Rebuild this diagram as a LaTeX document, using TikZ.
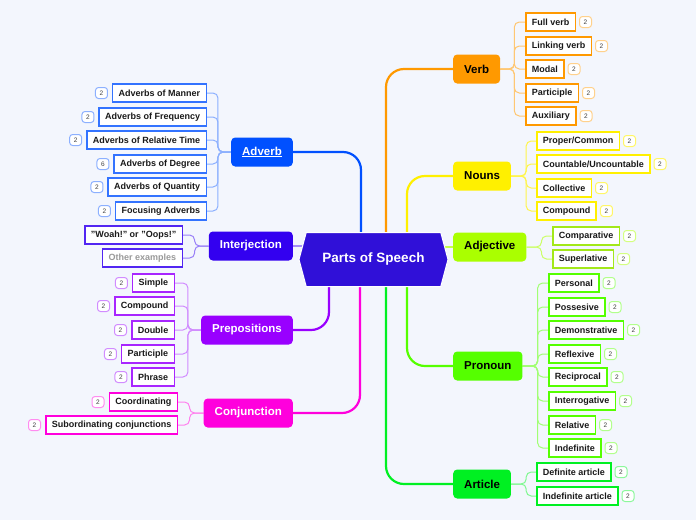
\documentclass[tikz,border=0pt]{standalone}
\usepackage{fontspec}
\setmainfont{Liberation Sans}
\usepackage{xcolor}
\usepackage{tikz}
\usetikzlibrary{positioning, shapes.symbols, backgrounds}
\definecolor{bgblue}{HTML}{F3F6FD}
\definecolor{rootc}{HTML}{3010D8}
\definecolor{verbc}{HTML}{FF9900}
\definecolor{nounc}{HTML}{FFF000}
\definecolor{adjc}{HTML}{AAFF00}
\definecolor{pronc}{HTML}{55FF00}
\definecolor{artc}{HTML}{00F022}
\definecolor{advc}{HTML}{0050FF}
\definecolor{interc}{HTML}{3300F0}
\definecolor{prepc}{HTML}{9900FF}
\definecolor{conjc}{HTML}{FF00DD}

\begin{document}
\begin{tikzpicture}[x=1pt, y=-1pt,
  root/.style={shape=signal, signal to=west and east, signal pointer angle=150,
    fill=rootc, draw=white, line width=1pt, minimum width=149pt, minimum height=54pt,
    text=white, font=\fontsize{13.5}{15}\selectfont\bfseries},
  branch/.style={rectangle, rounded corners=4pt, minimum height=29pt, inner xsep=11pt,
    font=\fontsize{11.5}{13}\selectfont\bfseries},
  leaf/.style={rectangle, fill=white, line width=1.5pt, minimum height=18pt,
    inner xsep=6pt, inner ysep=2pt, text=black!90, font=\fontsize{9}{10}\selectfont\bfseries},
  badge/.style={rectangle, rounded corners=3pt, fill=white, line width=1pt,
    minimum width=12pt, minimum height=11pt, inner sep=0pt, text=black!75,
    font=\fontsize{6.5}{7}\selectfont},
  limb/.style={line width=2.2pt, rounded corners=18pt},
  twig/.style={line width=1pt, rounded corners=5pt},
]
  \useasboundingbox (0,0) rectangle (696,520);
  \begin{pgfonlayer}{background}
    \fill[bgblue] (0,0) rectangle (696,520);
  \end{pgfonlayer}

  % centre
  \node[root] (pos) at (373.5,259.5) {Parts of Speech};

  % main branches
  \node[branch, fill=verbc, anchor=west] (verb) at (453,69) {Verb};
  \node[branch, fill=nounc, anchor=west] (nouns) at (453,176) {Nouns};
  \node[branch, fill=adjc, anchor=west] (adj) at (453,247) {Adjective};
  \node[branch, fill=pronc, anchor=west] (pron) at (453,366) {Pronoun};
  \node[branch, fill=artc, anchor=west] (art) at (453,484) {Article};
  \node[branch, fill=advc, text=white, anchor=east] (adv) at (293,152) {\underline{Adverb}};
  \node[branch, fill=interc, text=white, anchor=east] (inter) at (293,246) {Interjection};
  \node[branch, fill=prepc, text=white, anchor=east] (prep) at (293,330) {Prepositions};
  \node[branch, fill=conjc, text=white, anchor=east] (conj) at (293,413) {Conjunction};

  \begin{pgfonlayer}{background}
    \draw[limb, verbc] ([xshift=12.5pt]pos.north) |- (verb.west);
    \draw[limb, nounc] ([xshift=33.5pt]pos.north) |- (nouns.west);
    \draw[limb, advc] ([xshift=-12.5pt]pos.north) |- (adv.east);
    \draw[limb, pronc] ([xshift=33.5pt]pos.south) |- (pron.west);
    \draw[limb, artc] ([xshift=12.5pt]pos.south) |- (art.west);
    \draw[limb, prepc] ([xshift=-44.5pt]pos.south) |- (prep.east);
    \draw[limb, conjc] ([xshift=-13.5pt]pos.south) |- (conj.east);
    \draw[limb, line width=1.5pt, adjc!70] (adj.west) -- (adj.west -| pos.center);
    \draw[limb, line width=1.5pt, interc!45] (inter.east) -- (inter.east -| pos.center);
  \end{pgfonlayer}

  % right side leaves
  \foreach \t/\y [count=\i] in {Full verb/22, Linking verb/46, Modal/69, Participle/93, Auxiliary/116} {
    \node[leaf, draw=verbc, anchor=west] (verb-\i) at (525,\y) {\t};
    \node[badge, draw=verbc!45, right=3pt of verb-\i] (verb-\i-n) {2};
    \begin{pgfonlayer}{background}
      \draw[twig, verbc!55] (verb.east) -- ++(14,0) |- (verb-\i.west);
    \end{pgfonlayer}
  }
  \foreach \t/\y [count=\i] in {{Proper/Common}/141, {Countable/Uncountable}/164, Collective/188, Compound/211} {
    \node[leaf, draw=nounc, anchor=west] (nouns-\i) at (536,\y) {\t};
    \node[badge, draw=nounc!60, right=3pt of nouns-\i] (nouns-\i-n) {2};
    \begin{pgfonlayer}{background}
      \draw[twig, nounc!70] (nouns.east) -- ++(15,0) |- (nouns-\i.west);
    \end{pgfonlayer}
  }
  \foreach \t/\y [count=\i] in {Comparative/236, Superlative/259} {
    \node[leaf, draw=adjc!90!black!90, anchor=west] (adj-\i) at (552,\y) {\t};
    \node[badge, draw=adjc!50, right=3pt of adj-\i] (adj-\i-n) {2};
    \begin{pgfonlayer}{background}
      \draw[twig, adjc!60] (adj.east) -- ++(15,0) |- (adj-\i.west);
    \end{pgfonlayer}
  }
  \foreach \t/\y [count=\i] in {Personal/283, Possesive/307, Demonstrative/330, Reflexive/354,
      Reciprocal/377, Interrogative/401, Relative/425, Indefinite/448} {
    \node[leaf, draw=pronc, anchor=west] (pron-\i) at (548,\y) {\t};
    \node[badge, draw=pronc!45, right=3pt of pron-\i] (pron-\i-n) {2};
    \begin{pgfonlayer}{background}
      \draw[twig, pronc!55] (pron.east) -- ++(15,0) |- (pron-\i.west);
    \end{pgfonlayer}
  }
  \foreach \t/\y [count=\i] in {Definite article/472, Indefinite article/496} {
    \node[leaf, draw=artc, anchor=west] (art-\i) at (536,\y) {\t};
    \node[badge, draw=artc!45, right=3pt of art-\i] (art-\i-n) {2};
    \begin{pgfonlayer}{background}
      \draw[twig, artc!50] (art.east) -- ++(15,0) |- (art-\i.west);
    \end{pgfonlayer}
  }

  % left side leaves
  \foreach \t/\y/\n [count=\i] in {Adverbs of Manner/93/2, Adverbs of Frequency/117/2,
      Adverbs of Relative Time/140/2, Adverbs of Degree/164/6, Adverbs of Quantity/187/2,
      Focusing Adverbs/211/2} {
    \node[leaf, draw=advc!80, anchor=east] (adv-\i) at (207,\y) {\t};
    \node[badge, draw=advc!45, left=4pt of adv-\i] (adv-\i-n) {\n};
    \begin{pgfonlayer}{background}
      \draw[twig, advc!45] (adv.west) -- ++(-13,0) |- (adv-\i.east);
    \end{pgfonlayer}
  }
  \node[leaf, draw=interc!85, anchor=east] (inter-1) at (183,235) {"Woah!" or "Oops!"};
  \node[leaf, draw=interc!85, anchor=east, text=black!40] (inter-2) at (183,258) {Other examples};
  \begin{pgfonlayer}{background}
    \draw[twig, interc!50] (inter.west) -- ++(-14,0) |- (inter-1.east);
    \draw[twig, interc!50] (inter.west) -- ++(-14,0) |- (inter-2.east);
  \end{pgfonlayer}
  \foreach \t/\y [count=\i] in {Simple/283, Compound/306, Double/330, Participle/354, Phrase/377} {
    \node[leaf, draw=prepc!85, anchor=east] (prep-\i) at (175,\y) {\t};
    \node[badge, draw=prepc!45, left=4pt of prep-\i] (prep-\i-n) {2};
    \begin{pgfonlayer}{background}
      \draw[twig, prepc!45] (prep.west) -- ++(-13,0) |- (prep-\i.east);
    \end{pgfonlayer}
  }
  \foreach \t/\y [count=\i] in {Coordinating/402, Subordinating conjunctions/425} {
    \node[leaf, draw=conjc, anchor=east] (conj-\i) at (178,\y) {\t};
    \node[badge, draw=conjc!45, left=4pt of conj-\i] (conj-\i-n) {2};
    \begin{pgfonlayer}{background}
      \draw[twig, conjc!50] (conj.west) -- ++(-14,0) |- (conj-\i.east);
    \end{pgfonlayer}
  }
\end{tikzpicture}
\end{document}
